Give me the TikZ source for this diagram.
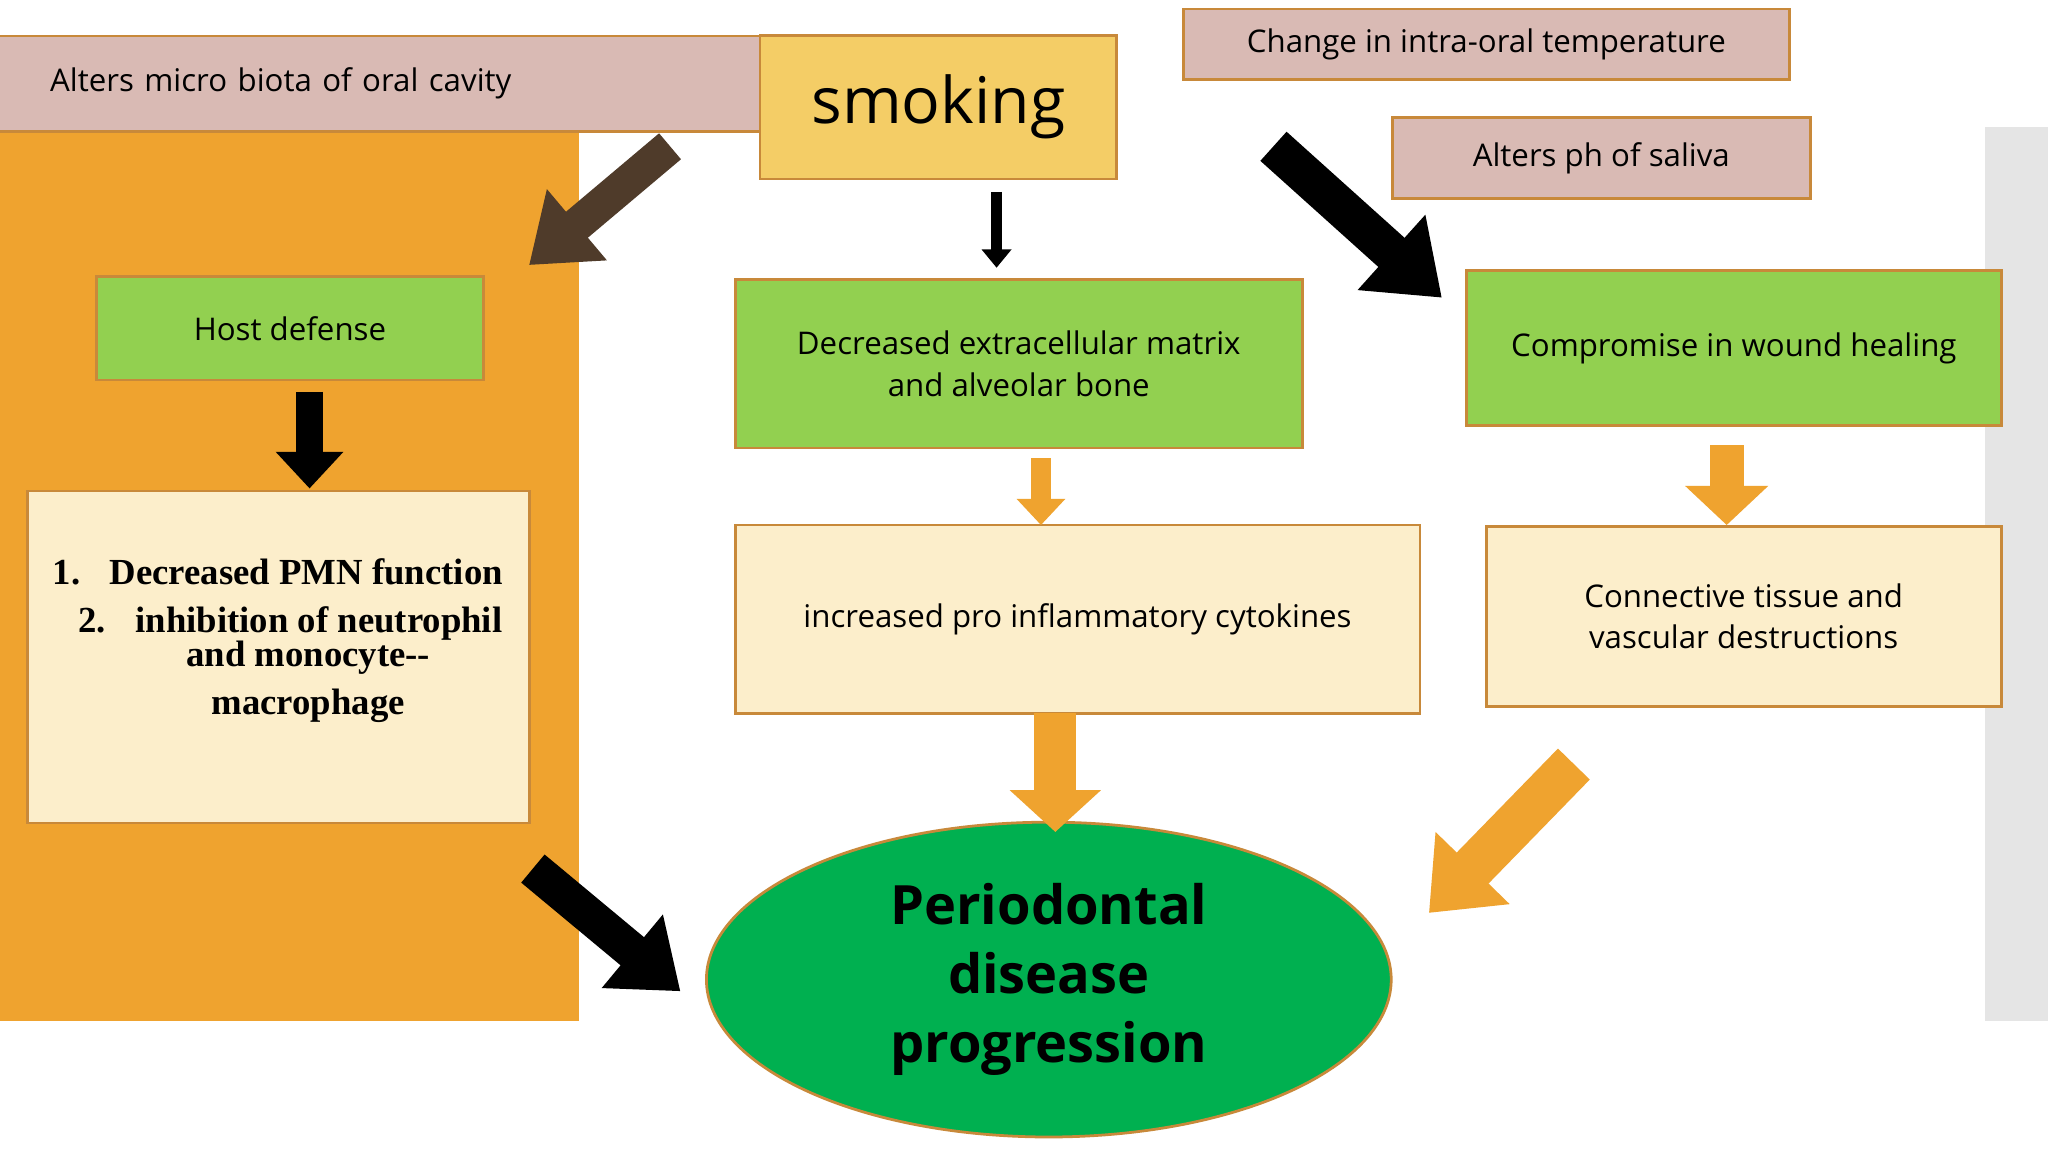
\documentclass[tikz,border=0pt]{standalone}
\usepackage{fontspec}
\setmainfont{Open Sans}
\newfontfamily\tms{Liberation Serif}
\usetikzlibrary{arrows.meta,shapes.geometric}
\definecolor{org}{HTML}{EFA32F}
\definecolor{pinkb}{HTML}{D9BAB4}
\definecolor{grn}{HTML}{92D050}
\definecolor{cream}{HTML}{FCEECB}
\definecolor{smk}{HTML}{F4CD66}
\definecolor{bord}{HTML}{C8893A}
\definecolor{dgrn}{HTML}{00B050}
\definecolor{brn}{HTML}{4F3B2A}
\tikzset{
 box/.style={draw=bord,line width=0.6pt,inner sep=0pt,align=center},
 fat/.style n args={4}{line width=#1*0.01cm,draw=#4,-{Triangle[width=#2*0.01cm,length=#3*0.01cm]}},
 txt/.style={font=\fontsize{6.8pt}{9pt}\selectfont}
}
\begin{document}
\begin{tikzpicture}[x=0.01cm,y=-0.01cm]
\useasboundingbox (0,0) rectangle (1568,882);
\fill[white] (0,0) rectangle (1568,882);
\fill[org] (0,97) rectangle (443,782);
\fill[gray!20] (1520,97) rectangle (1568,782);
\node[box,fill=pinkb,minimum width=430\pgflinewidth,text width=4.2cm,minimum height=0.73cm,txt] (micro) at (215,64) {Alters micro biota of oral cavity};
\node[box,fill=smk,minimum width=2.73cm,minimum height=1.1cm,font=\fontsize{14pt}{16pt}\selectfont] (smoke) at (718.5,82) {smoking};
\node[box,fill=pinkb,minimum width=4.64cm,minimum height=0.54cm,txt] (temp) at (1138,34) {Change in intra-oral temperature};
\node[box,fill=pinkb,minimum width=3.2cm,minimum height=0.62cm,txt] (ph) at (1226,121) {Alters ph of saliva};
\node[box,fill=grn,minimum width=2.96cm,minimum height=0.79cm,txt] (host) at (222,251.5) {Host defense};
\node[box,fill=grn,minimum width=4.34cm,minimum height=1.29cm,txt] (ecm) at (780,278.5) {Decreased extracellular matrix\\and alveolar bone};
\node[box,fill=grn,minimum width=4.09cm,minimum height=1.19cm,txt] (wound) at (1327.5,266.5) {Compromise in wound healing};
\node[box,fill=cream,minimum width=3.84cm,minimum height=2.54cm] (list) at (213,503) {};
\node[anchor=north west,font=\tms\bfseries\fontsize{8pt}{10.6pt}\selectfont,align=left] (ltxt) at (28,415) {1.\hspace{0.8em}Decreased PMN function\\\hspace{0.7em}2.\hspace{0.8em}inhibition of neutrophil};
\node[font=\tms\bfseries\fontsize{8pt}{10.6pt}\selectfont,align=center] (ltxt2) at (236,522) {and monocyte--\\macrophage};
\node[box,fill=cream,minimum width=5.24cm,minimum height=1.44cm,txt] (cyto) at (825,474) {increased pro inflammatory cytokines};
\node[box,fill=cream,minimum width=3.94cm,minimum height=1.38cm,txt] (conn) at (1335,472) {Connective tissue and\\vascular destructions};
\node[ellipse,draw=bord,line width=0.6pt,fill=dgrn,minimum width=5.24cm,minimum height=2.24cm,align=center,font=\bfseries\fontsize{11.8pt}{15pt}\selectfont] (peri) at (803,750) {Periodontal\\disease\\progression};
% arrows
\coordinate (a1) at (513,112); \coordinate (b1) at (405,203);
\coordinate (a2) at (763,147); \coordinate (b2) at (763,205);
\coordinate (a3) at (975,112); \coordinate (b3) at (1104,228);
\coordinate (a4) at (237,300); \coordinate (b4) at (237,374);
\coordinate (a5) at (797,351); \coordinate (b5) at (797,402);
\coordinate (a6) at (1322,341); \coordinate (b6) at (1322,402);
\coordinate (a7) at (808,546); \coordinate (b7) at (808,637);
\coordinate (a8) at (1205,585); \coordinate (b8) at (1094,699);
\coordinate (a9) at (408,665); \coordinate (b9) at (521,759);
\draw[fat={26}{68}{48}{brn}] (a1) -- (b1);
\draw[fat={8}{22}{14}{black}] (a2) -- (b2);
\draw[fat={30}{74}{52}{black}] (a3) -- (b3);
\draw[fat={20}{50}{28}{black}] (a4) -- (b4);
\draw[fat={16}{36}{20}{org}] (a5) -- (b5);
\draw[fat={26}{62}{30}{org}] (a6) -- (b6);
\draw[fat={32}{68}{32}{org}] (a7) -- (b7);
\draw[fat={34}{76}{48}{org}] (a8) -- (b8);
\draw[fat={28}{70}{48}{black}] (a9) -- (b9);
\end{tikzpicture}
\end{document}
